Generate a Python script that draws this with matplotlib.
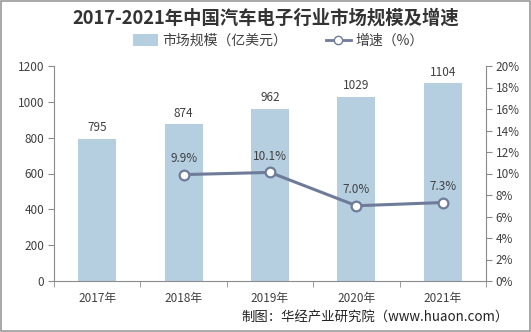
import matplotlib.pyplot as plt
from matplotlib.lines import Line2D
from matplotlib.patches import Patch

plt.rcParams['font.family'] = ['Noto Sans CJK SC', 'DejaVu Sans']

years = ['2017年', '2018年', '2019年', '2020年', '2021年']
market = [795, 874, 962, 1029, 1104]
growth_years = [1, 2, 3, 4]
growth = [9.9, 10.1, 7.0, 7.3]
left_ticks = [0, 200, 400, 600, 800, 1000, 1200]
right_ticks = [0, 2, 4, 6, 8, 10, 12, 14, 16, 18, 20]

W, H = 531, 332
fig = plt.figure(figsize=(W / 100, H / 100), dpi=100)
ax = fig.add_axes([54 / W, 1 - 281 / H, (486 - 54) / W, (281 - 66) / H])

bar_color = '#b5cfe1'
line_color = '#6e7b99'
axis_color = '#8c8c8c'
text_color = '#404040'

x = list(range(len(years)))
bars = ax.bar(x, market, width=0.44, color=bar_color, zorder=2)
for xi, v in zip(x, market):
    ax.text(xi, v + 25, str(v), ha='center', va='bottom', fontsize=8.5, color=text_color)

ax.set_xlim(-0.5, len(years) - 0.5)
ax.set_ylim(0, 1200)
ax.set_yticks(left_ticks)
ax.set_yticklabels([str(t) for t in left_ticks], fontsize=8.5, color=text_color)
ax.set_xticks(x)
ax.set_xticklabels(years, fontsize=8.5, color=text_color)
ax.set_xticks([i + 0.5 for i in range(-1, len(years))], minor=True)
ax.tick_params(axis='x', which='major', length=0, pad=8)
ax.tick_params(axis='x', which='minor', length=4, color=axis_color, direction='out')
ax.tick_params(axis='y', length=4, color=axis_color, pad=3)
for s in ['top', 'right']:
    ax.spines[s].set_visible(False)
ax.spines['left'].set_color(axis_color)
ax.spines['bottom'].set_color(axis_color)

ax2 = ax.twinx()
ax2.set_ylim(0, 20)
ax2.set_yticks(right_ticks)
ax2.set_yticklabels([f'{t}%' for t in right_ticks], fontsize=8.5, color=text_color)
ax2.tick_params(axis='y', length=4, color=axis_color, pad=3)
for s in ['top', 'left', 'bottom']:
    ax2.spines[s].set_visible(False)
ax2.spines['right'].set_color(axis_color)
ax2.plot(growth_years, growth, color=line_color, lw=2.2, marker='o', ms=7,
         mfc='white', mec=line_color, mew=1.6, zorder=3)
for xi, g in zip(growth_years, growth):
    ax2.text(xi, g + 0.9, f'{g:.1f}%', ha='center', va='bottom', fontsize=8.5, color=text_color)

fig.text(0.5, 1 - 18 / H, '2017-2021年中国汽车电子行业市场规模及增速', ha='center', va='center',
         fontsize=13.2, fontweight='bold', color='#333333')

handles = [Patch(facecolor=bar_color, edgecolor='none'),
           Line2D([0], [0], color=line_color, lw=2, marker='o', ms=6, mfc='white', mec=line_color)]
fig.legend(handles, ['市场规模（亿美元）', '增速（%）'], loc='center',
           bbox_to_anchor=(278 / W, 1 - 41 / H),
           ncol=2, frameon=False, fontsize=10, handlelength=1.8, handleheight=0.9, columnspacing=2.8,
           handletextpad=0.3, labelcolor=text_color)

fig.text(1 - 22 / W, 1 - 318 / H, '制图：华经产业研究院（www.huaon.com）', ha='right', va='center',
         fontsize=9.6, color='#222222')

fig.patches.append(plt.Rectangle((0.002, 0.003), 0.996, 0.994, transform=fig.transFigure,
                                 fill=False, edgecolor='#9a9a9a', lw=1.2))

fig.savefig('out.png', dpi=100)
